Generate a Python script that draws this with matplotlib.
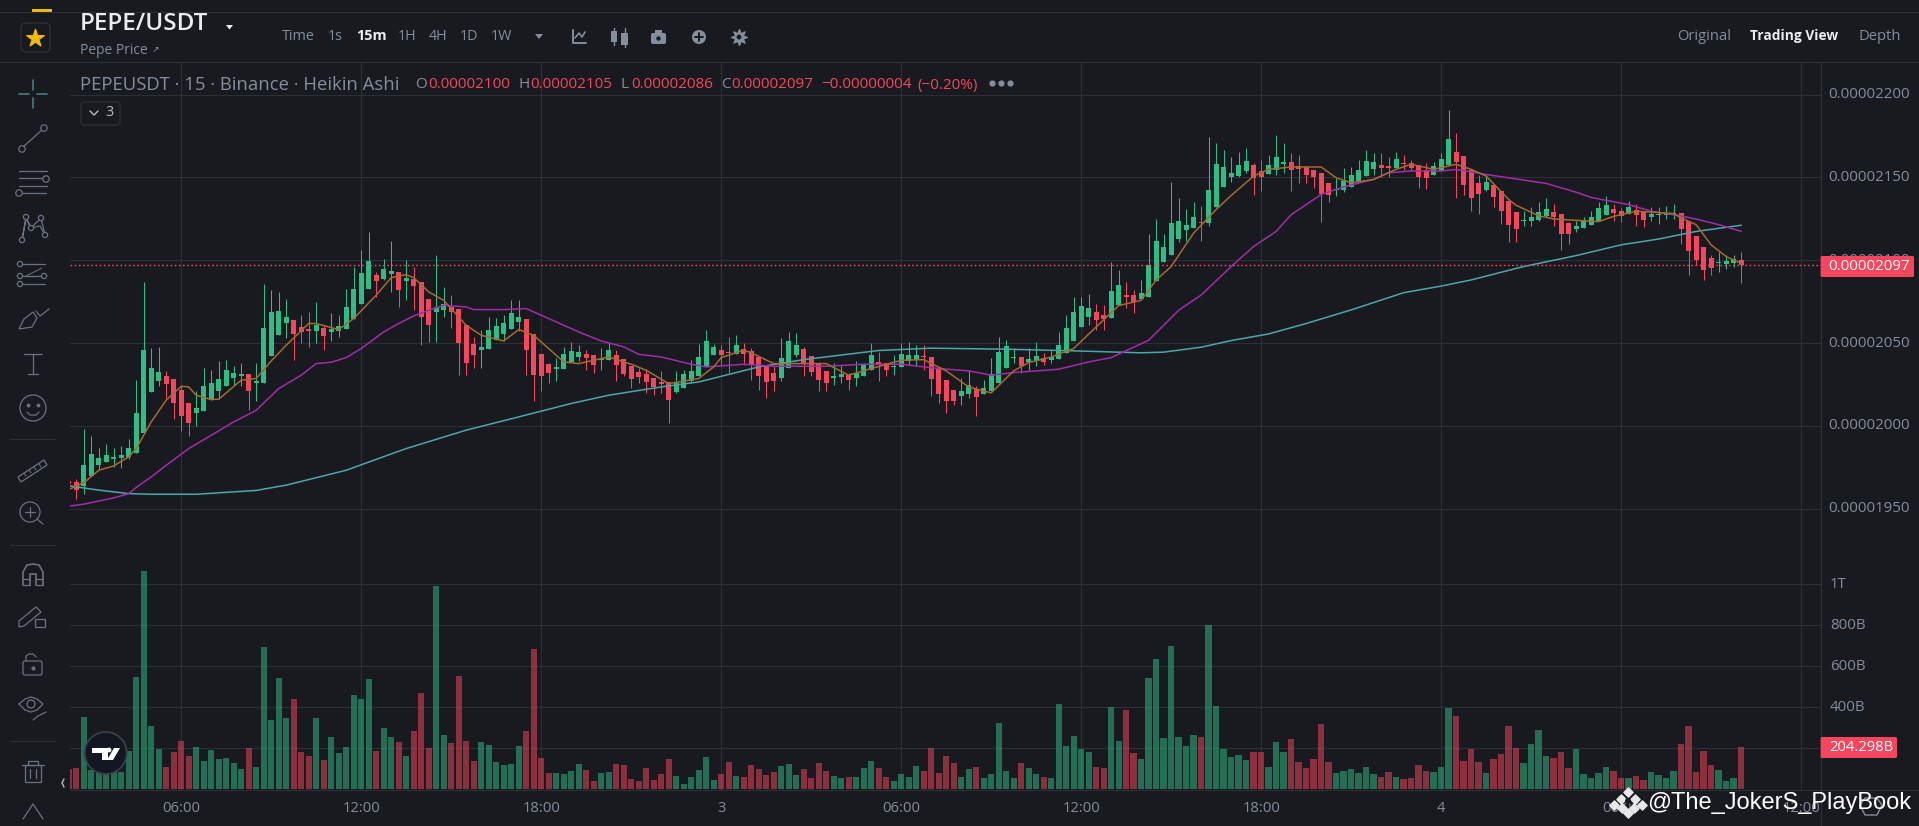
import numpy as np
import matplotlib
matplotlib.use('Agg')
import matplotlib.pyplot as plt
from matplotlib.patches import Circle, FancyBboxPatch, Polygon, Rectangle

# prices are in units of 0.00000001, bar 0 is the first 06:00 candle
opens = [1966.6, 1966.0, 1963.6, 1969.6, 1976.2, 1978.1, 1979.9, 1980.5, 1981.1, 1983.5, 1995.6, 2020.3, 2027.0, 2030.0, 2028.2,
         2021.5, 2013.7, 2007.6, 2008.8, 2015.9, 2020.9, 2023.9, 2028.8, 2030.0, 2031.2,
         2025.7, 2025.7, 2042.0, 2054.7, 2062.0, 2063.8, 2059.5, 2058.3, 2057.1, 2058.9,
         2056.5, 2057.1, 2058.3, 2064.4, 2073.4, 2082.5, 2090.9, 2088.5, 2091.5, 2092.7,
         2087.3, 2088.5, 2086.7, 2076.4, 2068.6, 2069.8, 2071.6, 2070.4, 2060.7, 2049.3,
         2045.7, 2046.3, 2051.7, 2055.3, 2058.3, 2062.6, 2064.4, 2055.3, 2043.2, 2037.2,
         2034.2, 2034.2, 2038.4, 2041.4, 2043.2, 2042.6, 2039.6, 2039.6, 2042.6, 2040.2,
         2036.0, 2032.4, 2031.2, 2028.8, 2026.3, 2026.3, 2020.3, 2022.7, 2026.9, 2030.0,
         2035.4, 2042.6, 2045.7, 2044.5, 2043.2, 2046.3, 2045.1, 2041.4, 2036.0, 2031.8,
         2028.8, 2034.8, 2042.6, 2046.3, 2042.0, 2037.2, 2033.0, 2028.8, 2029.4, 2030.6,
         2028.8, 2030.0, 2033.6, 2038.4, 2037.8, 2035.4, 2035.4, 2039.0, 2039.6, 2042.0,
         2041.4, 2034.8, 2027.6, 2021.5, 2017.9, 2019.1, 2022.1, 2019.1, 2020.9, 2025.7,
         2034.8, 2040.8, 2041.4, 2038.4, 2039.0, 2040.8, 2039.6, 2040.2, 2043.8, 2051.1,
         2059.5, 2065.6, 2068.6, 2066.8, 2065.0, 2072.8, 2078.9, 2078.9, 2076.4, 2078.0,
         2087.5, 2099.0, 2103.3, 2113.0, 2118.4, 2119.6, 2123.3, 2122.7, 2132.4, 2144.5,
         2150.0, 2150.6, 2153.7, 2157.3, 2153.7, 2151.8, 2154.3, 2157.9, 2159.1, 2156.7,
         2156.1, 2154.3, 2152.4, 2146.4, 2142.7, 2142.7, 2144.5, 2147.6, 2150.6, 2154.9,
         2157.3, 2156.7, 2155.5, 2158.5, 2158.5, 2157.3, 2154.3, 2151.2, 2153.7, 2157.3,
         2165.2, 2162.8, 2154.3, 2146.4, 2142.7, 2145.2, 2142.1, 2136.0, 2129.4, 2123.9,
         2123.9, 2124.5, 2126.9, 2129.4, 2128.2, 2122.7, 2119.0, 2119.6, 2121.5, 2123.9,
         2127.5, 2131.2, 2130.0, 2128.2, 2130.6, 2129.4, 2126.3, 2127.5, 2127.5, 2128.2,
         2128.8, 2123.9, 2114.8, 2108.1, 2101.4, 2098.4, 2097.8, 2098.4, 2100.0]

closes = [1964.8, 1961.4, 1976.2, 1982.9, 1980.5, 1982.3, 1981.1, 1982.3, 1986.5, 2007.6, 2045.7, 2034.8, 2032.4, 2025.1, 2013.7,
          2005.8, 2001.6, 2010.7, 2023.9, 2025.7, 2028.2, 2033.6, 2031.8, 2031.2, 2020.9,
          2027.0, 2058.9, 2068.6, 2069.2, 2065.6, 2055.3, 2056.5, 2057.1, 2060.7, 2054.1,
          2058.3, 2060.1, 2071.6, 2082.5, 2092.1, 2099.4, 2087.3, 2094.6, 2093.3, 2081.9,
          2089.1, 2084.3, 2065.6, 2060.7, 2071.6, 2073.4, 2068.6, 2049.9, 2037.8, 2042.6,
          2047.5, 2057.7, 2060.1, 2062.0, 2068.0, 2065.6, 2045.7, 2030.6, 2030.0, 2031.8,
          2035.4, 2043.2, 2045.1, 2044.5, 2040.8, 2036.6, 2040.2, 2045.7, 2036.6, 2031.2,
          2028.2, 2029.4, 2026.3, 2023.3, 2025.1, 2015.5, 2025.7, 2031.2, 2033.0, 2041.4,
          2051.1, 2047.5, 2042.6, 2043.8, 2048.7, 2043.2, 2036.6, 2030.0, 2026.3, 2027.0,
          2040.8, 2051.1, 2048.7, 2037.2, 2032.4, 2027.6, 2025.7, 2030.0, 2031.2, 2027.6,
          2031.8, 2037.2, 2042.6, 2036.6, 2033.6, 2036.0, 2043.2, 2042.6, 2042.6, 2041.4,
          2028.2, 2019.1, 2014.9, 2014.9, 2020.9, 2024.5, 2017.3, 2022.7, 2031.2, 2044.5,
          2048.1, 2041.4, 2036.0, 2040.2, 2042.0, 2038.4, 2041.4, 2048.7, 2058.9, 2068.6,
          2072.2, 2071.0, 2063.8, 2064.4, 2081.3, 2084.9, 2077.7, 2074.6, 2080.1, 2097.2,
          2111.8, 2108.1, 2122.7, 2123.9, 2121.5, 2126.3, 2122.7, 2142.7, 2157.9, 2156.1,
          2152.4, 2157.3, 2159.7, 2149.4, 2150.0, 2157.3, 2162.2, 2159.1, 2154.3, 2154.9,
          2151.2, 2150.0, 2139.7, 2139.1, 2143.3, 2147.6, 2151.2, 2154.3, 2159.7, 2159.1,
          2155.5, 2155.5, 2160.9, 2157.9, 2155.5, 2150.0, 2149.4, 2156.7, 2160.9, 2173.1,
          2159.1, 2145.2, 2137.3, 2139.7, 2147.0, 2137.9, 2130.0, 2121.5, 2119.0, 2124.5,
          2126.3, 2129.4, 2131.2, 2126.3, 2116.0, 2116.0, 2120.9, 2123.9, 2126.3, 2131.8,
          2133.6, 2128.8, 2126.9, 2132.4, 2127.5, 2124.5, 2128.2, 2128.2, 2128.8, 2128.8,
          2119.0, 2105.7, 2100.2, 2094.2, 2095.4, 2099.0, 2099.6, 2100.8, 2097.0]

highs = [1966.6, 1967.8, 1998.0, 1993.7, 1986.7, 1988.9, 1986.5, 1987.7, 1992.0, 2027.6, 2086.7, 2046.9, 2047.5, 2033.0, 2028.2,
         2023.9, 2013.7, 2020.9, 2034.8, 2033.6, 2039.0, 2039.6, 2036.0, 2037.8, 2031.2,
         2037.8, 2085.5, 2081.9, 2080.7, 2076.4, 2063.8, 2066.8, 2068.6, 2074.6, 2060.7,
         2068.0, 2066.8, 2082.5, 2095.8, 2106.0, 2116.9, 2092.7, 2100.6, 2111.5, 2092.7,
         2100.0, 2095.8, 2086.7, 2076.4, 2103.0, 2083.7, 2078.9, 2070.4, 2060.7, 2053.5,
         2057.7, 2065.6, 2065.0, 2066.8, 2075.8, 2075.8, 2064.4, 2055.3, 2043.2, 2037.8,
         2040.8, 2047.5, 2050.5, 2048.7, 2045.7, 2042.6, 2046.9, 2050.5, 2045.7, 2040.2,
         2036.0, 2034.8, 2034.2, 2028.8, 2033.0, 2026.3, 2033.0, 2033.6, 2039.6, 2049.7,
         2057.7, 2049.7, 2048.7, 2053.5, 2054.7, 2049.9, 2046.9, 2041.4, 2036.0, 2036.0,
         2052.9, 2056.5, 2055.9, 2047.5, 2042.0, 2037.2, 2033.0, 2037.8, 2036.6, 2031.8,
         2039.0, 2037.8, 2049.9, 2044.5, 2037.8, 2042.6, 2049.9, 2050.5, 2048.7, 2048.7,
         2041.4, 2034.8, 2027.6, 2021.5, 2028.8, 2033.6, 2023.9, 2027.6, 2040.8, 2053.5,
         2051.7, 2046.9, 2041.4, 2046.9, 2050.5, 2043.8, 2045.7, 2056.5, 2066.8, 2077.7,
         2077.7, 2079.5, 2073.4, 2072.8, 2098.8, 2093.9, 2086.7, 2081.9, 2087.9, 2116.0,
         2125.1, 2116.0, 2147.0, 2137.3, 2131.2, 2135.4, 2133.0, 2174.3, 2170.7, 2166.4,
         2162.2, 2165.2, 2167.6, 2158.5, 2160.3, 2163.4, 2175.5, 2170.7, 2164.6, 2163.4,
         2156.1, 2154.3, 2152.4, 2146.4, 2149.4, 2155.5, 2156.1, 2160.3, 2166.4, 2164.6,
         2164.6, 2162.2, 2165.2, 2163.4, 2160.3, 2157.3, 2158.5, 2159.1, 2164.6, 2190.7,
         2176.7, 2162.8, 2154.3, 2151.2, 2151.2, 2145.2, 2142.1, 2136.0, 2129.4, 2130.0,
         2132.4, 2135.4, 2137.3, 2134.2, 2128.2, 2123.3, 2123.9, 2126.3, 2130.0, 2135.4,
         2138.5, 2134.2, 2131.8, 2136.0, 2134.2, 2130.0, 2132.4, 2132.4, 2133.0, 2134.2,
         2128.8, 2123.9, 2114.8, 2108.1, 2103.3, 2105.1, 2103.3, 2103.3, 2105.0]

lows = [1964.8, 1956.0, 1959.0, 1969.6, 1973.8, 1978.1, 1975.2, 1974.6, 1979.9, 1983.5, 1995.6, 2020.3, 2023.9, 2016.7, 2004.0,
        1996.8, 1993.8, 1999.8, 2008.8, 2015.9, 2016.1, 2023.9, 2023.9, 2023.9, 2009.4,
        2014.9, 2025.7, 2042.0, 2054.7, 2052.9, 2039.6, 2049.9, 2047.5, 2049.9, 2045.7,
        2051.1, 2053.5, 2058.3, 2064.4, 2073.4, 2082.5, 2077.7, 2087.9, 2080.7, 2071.6,
        2075.8, 2069.8, 2048.7, 2050.5, 2050.5, 2065.6, 2058.9, 2030.6, 2030.6, 2034.8,
        2034.8, 2046.3, 2051.7, 2051.1, 2058.3, 2057.1, 2030.6, 2014.9, 2020.9, 2025.7,
        2027.0, 2034.2, 2038.4, 2039.0, 2033.6, 2031.8, 2033.6, 2039.6, 2027.0, 2030.0,
        2022.7, 2025.7, 2019.7, 2018.5, 2019.7, 2001.6, 2019.7, 2022.7, 2026.3, 2030.0,
        2035.4, 2042.6, 2036.6, 2031.8, 2043.2, 2036.6, 2027.6, 2021.5, 2016.7, 2020.9,
        2027.0, 2034.8, 2041.4, 2030.0, 2030.0, 2020.9, 2020.9, 2024.5, 2025.7, 2021.5,
        2023.9, 2030.0, 2033.6, 2027.0, 2030.0, 2030.6, 2035.4, 2036.6, 2036.0, 2033.6,
        2017.9, 2013.7, 2007.6, 2012.5, 2012.5, 2016.7, 2005.8, 2019.1, 2020.9, 2025.7,
        2034.8, 2037.8, 2031.8, 2033.6, 2036.0, 2036.6, 2037.8, 2040.2, 2043.8, 2051.1,
        2059.5, 2060.7, 2057.7, 2057.7, 2065.0, 2072.8, 2071.0, 2068.0, 2076.4, 2078.0,
        2087.5, 2099.0, 2103.3, 2111.2, 2111.8, 2119.6, 2111.8, 2120.9, 2132.4, 2144.5,
        2147.0, 2150.0, 2152.4, 2139.1, 2142.1, 2151.8, 2151.2, 2152.4, 2142.1, 2146.4,
        2146.4, 2143.9, 2123.3, 2135.4, 2138.5, 2141.5, 2144.5, 2147.0, 2150.6, 2151.2,
        2150.0, 2150.0, 2155.5, 2154.3, 2153.7, 2143.9, 2143.3, 2151.2, 2153.7, 2157.3,
        2137.3, 2139.1, 2130.0, 2128.2, 2142.1, 2132.4, 2122.1, 2111.2, 2111.2, 2120.9,
        2120.9, 2123.9, 2126.3, 2120.9, 2106.3, 2109.9, 2117.2, 2119.6, 2121.5, 2123.9,
        2127.5, 2123.9, 2123.3, 2128.2, 2120.9, 2120.3, 2123.9, 2122.1, 2125.1, 2125.1,
        2109.9, 2091.1, 2097.2, 2088.1, 2091.1, 2092.9, 2094.8, 2096.0, 2086.0]

# volume in billions
volumes = [99, 104, 353, 94, 78, 85, 85, 85, 187, 548, 1065, 309, 197, 109, 182,
           236, 163, 207, 138, 192, 148, 153, 128, 99, 202,
           109, 694, 338, 543, 348, 441, 182, 163, 348, 143,
           255, 177, 207, 460, 441, 538, 187, 299, 255, 231,
           163, 285, 470, 202, 992, 265, 226, 553, 236, 138,
           231, 216, 133, 119, 124, 211, 285, 685, 153, 80,
           80, 75, 89, 124, 94, 41, 80, 85, 124, 119,
           50, 41, 104, 46, 75, 148, 65, 26, 60, 94,
           158, 46, 75, 133, 65, 60, 119, 99, 70, 85,
           114, 124, 70, 99, 55, 128, 89, 65, 55, 60,
           60, 104, 138, 104, 60, 41, 75, 60, 114, 89,
           202, 80, 163, 128, 60, 99, 109, 55, 75, 324,
           89, 55, 128, 104, 75, 60, 55, 416, 211, 260,
           197, 182, 109, 104, 402, 236, 387, 177, 148, 543,
           636, 250, 699, 255, 211, 265, 255, 802, 407, 197,
           158, 167, 143, 182, 182, 109, 231, 182, 246, 133,
           104, 148, 319, 133, 80, 89, 99, 80, 109, 75,
           60, 85, 60, 50, 55, 119, 89, 85, 109, 397,
           358, 138, 197, 133, 80, 148, 172, 309, 202, 128,
           221, 289, 163, 153, 182, 104, 197, 75, 55, 80,
           109, 89, 55, 55, 65, 46, 85, 70, 55, 89,
           221, 309, 85, 187, 119, 94, 41, 55, 204.298]

# moving averages at the bends
ma_fast_bars = [-15, -13, -11, -9, -7, -6, -4, -2, 0, 1, 2, 4, 5, 8, 10, 12, 14, 17, 18, 21, 23, 26, 28, 30, 31, 33, 35, 38, 40, 43,
                45, 47, 51, 53, 57, 60, 62, 65, 69, 71, 72, 75, 76, 79, 82, 86, 89, 92, 96, 99, 102, 105, 108, 111, 113, 116, 119, 122, 125, 128,
                130, 132, 135, 138, 140, 143, 145, 148, 152, 154, 156, 159, 162, 164, 167, 170, 172, 174, 177, 178, 181, 183, 189, 191, 194, 199, 200, 202, 204, 206, 208]
ma_fast = [1961.6, 1965.6, 1973.2, 1975.8, 1981.3, 1986.3, 2002.4, 2015.5, 2023.9, 2023.5, 2018.5, 2015.9, 2016.1, 2027.6, 2028.6, 2039.2, 2048.7, 2061.8, 2061.8, 2058.1, 2064.8, 2078.9, 2089.5, 2091.3, 2089.5, 2080.9, 2075.8, 2060.7, 2054.7, 2051.3,
           2058.1, 2054.7, 2038.6, 2037.6, 2041.6, 2037.2, 2033.6, 2025.5, 2028.6, 2035.6, 2041.2, 2045.7, 2044.1, 2037.6, 2037.6, 2037.6, 2030.6, 2034.6, 2039.6, 2040.0, 2033.2, 2023.5, 2019.9, 2033.2, 2038.2, 2041.6, 2046.7, 2059.7, 2072.6, 2075.8,
           2088.1, 2096.2, 2116.4, 2130.6, 2139.1, 2150.8, 2154.9, 2156.3, 2156.3, 2149.8, 2146.8, 2148.8, 2154.9, 2157.9, 2154.9, 2157.9, 2154.9, 2150.8, 2136.7, 2133.2, 2126.9, 2124.9, 2123.3, 2126.5, 2129.6, 2128.2, 2125.5, 2121.5, 2109.3, 2102.2, 2098.2]

ma_mid_bars = [-15, -13, -9, -7, -6, -4, -2, 1, 4, 7, 10, 13, 16, 18, 20, 22, 24, 27, 29, 31, 33, 35, 38, 39, 43, 46, 50, 53, 56, 59, 61, 64, 68, 70,
               75, 79, 86, 91, 96, 101, 105, 108, 111, 117, 121, 124, 129, 133, 136, 140, 143, 146, 148, 152, 155, 159, 161, 164, 168, 170, 172, 174, 179, 182, 186, 188, 190, 193, 196, 199, 202, 205, 208]
ma_mid = [1951.5, 1952.7, 1956.5, 1959.1, 1962.8, 1969.2, 1976.2, 1986.3, 1994.3, 2002.4, 2009.4, 2022.5, 2030.6, 2037.6, 2038.4, 2041.2, 2046.7, 2056.7, 2061.8, 2066.4, 2069.8, 2072.8, 2071.8, 2070.2, 2070.2, 2070.8, 2062.8, 2056.7, 2051.3, 2047.7, 2043.2, 2041.6, 2037.2, 2035.6,
          2037.2, 2036.0, 2036.0, 2037.2, 2037.2, 2034.6, 2033.2, 2030.6, 2032.2, 2034.2, 2038.6, 2041.2, 2051.7, 2069.8, 2079.0, 2096.2, 2108.3, 2117.4, 2127.5, 2139.7, 2144.3, 2148.8, 2152.8, 2153.9, 2153.9, 2154.8, 2153.4, 2151.8, 2148.4, 2146.4, 2141.1, 2137.9, 2136.2, 2133.6, 2129.6, 2127.5, 2124.9, 2121.5, 2117.4]

ma_slow_bars = [-15, -11, -7, -4, 2, 10, 14, 22, 30, 38, 45, 52, 57, 64, 69, 77, 83, 93, 100, 110, 119, 128, 131, 136, 140, 145, 150, 156, 163, 168, 172, 179, 186, 192, 197, 202, 208]
ma_slow = [1963.8, 1961.2, 1959.1, 1958.7, 1958.7, 1961.0, 1964.2, 1973.2, 1986.3, 1997.4, 2005.4, 2013.5, 2018.5, 2023.5, 2026.5, 2035.6, 2040.0, 2045.5, 2046.9, 2046.3, 2045.3, 2044.1, 2044.5, 2047.5, 2051.5, 2055.5, 2061.8, 2070.0, 2080.4, 2084.4, 2088.1, 2096.2, 2102.8, 2109.3, 2112.8, 2117.4, 2121.1]

last_price = 2097
last_volume = 204.298

time_bars = [0, 24, 48, 72, 96, 120, 144, 168, 192, 216]
time_labels = ['06:00', '12:00', '18:00', '3', '06:00', '12:00', '18:00', '4', '06:00', '12:00']
price_ticks = [1950, 2000, 2050, 2100, 2150, 2200]
volume_ticks = [200, 400, 600, 800, 1000]
volume_tick_labels = ['200B', '400B', '600B', '800B', '1T']

BG = '#181A20'
GRID = '#2B2F36'
GREY = '#848E9C'
GREEN = '#2EBD85'
RED = '#F6465D'
FONT = 'Open Sans'
W, H = 1919, 826

plt.rcParams['font.family'] = FONT
fig = plt.figure(figsize=(W / 100, H / 100), dpi=100, facecolor=BG)


def pane(left, top, right, bottom):
    # axes placed from pixel edges
    a = fig.add_axes([left / W, 1 - bottom / H, (right - left) / W, (bottom - top) / H], facecolor=BG)
    for s in a.spines.values():
        s.set_visible(False)
    a.tick_params(length=0, labelleft=False, labelbottom=False)
    a.set_xlim(-14.83, 218.6)
    a.set_xticks(time_bars)
    a.grid(True, color=GRID, lw=0.8)
    a.set_axisbelow(True)
    return a


bars = np.arange(len(opens)) - 15
opens_a, closes_a = np.array(opens), np.array(closes)
up = closes_a >= opens_a
colors = [GREEN if u else RED for u in up]

# candles
ax = pane(70, 62, 1820.6, 560)
ax.set_ylim(1919.0, 2219.7)
ax.set_yticks(price_ticks)
ax.vlines(bars, lows, highs, colors=colors, lw=0.75, zorder=2)
ax.bar(bars, np.abs(closes_a - opens_a), bottom=np.minimum(opens_a, closes_a), width=0.68,
       color=colors, zorder=3, linewidth=0)
ax.plot(ma_slow_bars, ma_slow, color='#4CA6AC', lw=1.1, zorder=4)
ax.plot(ma_mid_bars, ma_mid, color='#A22DA8', lw=1.1, zorder=4)
ax.plot(ma_fast_bars, ma_fast, color='#A56B30', lw=1.1, zorder=5)
ax.axhline(last_price, color=RED, lw=1.0, ls=(0, (1.2, 1.8)), zorder=5)

# volume
vax = pane(70, 560, 1820.6, 790)
vax.set_ylim(-3.4, 1118.5)
vax.set_yticks(volume_ticks)
vax.bar(bars, volumes, width=0.84, color=colors, alpha=0.52, linewidth=0, zorder=3)

# everything around the chart, in pixel coordinates
ui = fig.add_axes([0, 0, 1, 1], zorder=10)
ui.set_xlim(0, W)
ui.set_ylim(H, 0)
ui.axis('off')
ui.patch.set_alpha(0)


def label(x, y, s, color=GREY, size=10.8, ha='left', weight='normal', family=FONT, z=6):
    ui.text(x, y, s, color=color, fontsize=size, ha=ha, va='center', fontweight=weight, family=family, zorder=z)


def line(xs, ys, color='#6B7280', lw=0.9, z=3):
    ui.plot(xs, ys, color=color, lw=lw, solid_capstyle='round', zorder=z)


def knob(x, y, r=3.2, color='#6B7280'):
    ui.add_patch(Circle((x, y), r, fc=BG, ec=color, lw=0.9, zorder=4))


# frame lines
line([0, W], [12, 12], GRID, 0.8)
line([0, W], [62, 62], GRID, 0.8)
line([1820.6, 1820.6], [62, 826], GRID, 0.8)
line([70, W], [790, 790], GRID, 0.8)
ui.add_patch(Rectangle((32, 9), 20, 3, fc='#F0B90B', ec='none'))

# header
ui.add_patch(FancyBboxPatch((21, 23), 29, 29, boxstyle='round,pad=0,rounding_size=5', fc=BG, ec=GRID, lw=1))
ui.scatter([35], [38], marker='*', s=170, color='#F0B90B', zorder=5)
label(80, 24, 'PEPE/USDT', '#EAECEF', 17.5, weight='semibold')
ui.add_patch(Polygon([[226, 25], [233, 25], [229.5, 29.5]], fc='#EAECEF', ec='none'))
label(80, 51, 'Pepe Price', GREY, 9.9)
label(152, 49, '↗', GREY, 6.5, family='DejaVu Sans')
for x, s, c, w in [(282, 'Time', GREY, 'medium'), (328, '1s', GREY, 'medium'), (356, '15m', '#EAECEF', 'bold'), (398, '1H', GREY, 'medium'),
                   (429, '4H', GREY, 'medium'), (460, '1D', GREY, 'medium'), (491, '1W', GREY, 'medium')]:
    label(x, 36, s, c, 10.4, weight=w)
ui.add_patch(Polygon([[535, 34], [543, 34], [539, 39]], fc=GREY, ec='none'))
# chart tool icons
line([573, 573, 586], [30, 43, 43], GREY, 1.4)
line([575, 579, 582, 585], [38, 33, 37, 32], GREY, 1.2)
ui.add_patch(Rectangle((611, 31), 6, 11, fc=GREY, ec='none'))
ui.add_patch(Rectangle((621, 33), 7, 12, fc=GREY, ec='none'))
line([614, 614], [28, 45], GREY, 1)
line([624.5, 624.5], [28, 47], GREY, 1)
ui.add_patch(FancyBboxPatch((651, 33), 15, 11, boxstyle='round,pad=0,rounding_size=2', fc=GREY, ec='none'))
ui.add_patch(Rectangle((655, 30), 7, 3, fc=GREY, ec='none'))
ui.add_patch(Circle((658.5, 38.5), 2.2, fc=BG, ec='none', zorder=4))
ui.add_patch(Circle((699, 37), 7, fc=GREY, ec='none'))
line([695, 703], [37, 37], BG, 1.4, 5)
line([699, 699], [33, 41], BG, 1.4, 5)
ui.scatter([739], [37], marker=(8, 1, 0), s=130, color=GREY, zorder=4)
ui.add_patch(Circle((739, 37), 2.4, fc=BG, ec='none', zorder=5))
label(1677, 36, 'Original', GREY, 10.6, weight='medium')
label(1750, 36, 'Trading View', '#EAECEF', 9.9, weight='bold')
label(1859, 36, 'Depth', GREY, 10.6, weight='medium')

# legend row
label(80, 85, 'PEPEUSDT · 15 · Binance · Heikin Ashi', GREY, 13.3)
for x, s in [(415, 'O'), (519, 'H'), (620, 'L'), (721, 'C')]:
    label(x, 85, s, GREY, 11)
for x, s in [(428, '0.00002100'), (530, '0.00002105'), (631, '0.00002086'), (731, '0.00002097'),
             (821, '−0.00000004'), (917, '(−0.20%)')]:
    label(x, 85, s, RED, 11)
ui.scatter([992, 1001, 1010], [83, 83, 83], s=12, color=GREY, zorder=5)
ui.add_patch(FancyBboxPatch((81, 102), 39, 23, boxstyle='round,pad=0,rounding_size=3', fc=BG, ec=GRID, lw=1, zorder=5))
line([90, 94, 98], [111, 115, 111], '#B7BDC6', 1.0, 6)
label(105, 113, '3', '#B7BDC6', 10.4)

# price and volume scales
for p in price_ticks:
    label(1828, ax.transData.transform((0, p))[1] * -1 + H, f'0.0000{p}', GREY, 10.8, z=3)
for v, s in zip(volume_ticks, volume_tick_labels):
    label(1830, vax.transData.transform((0, v))[1] * -1 + H, s, GREY, 10.8, z=3)
for b, s in zip(time_bars, time_labels):
    label(ax.transData.transform((b, 0))[0], 808, s, GREY, 10.6, ha='center', weight='medium' if len(s) == 1 else 'normal', z=3)
ui.add_patch(FancyBboxPatch((1820.6, 256), 93.4, 21, boxstyle='round,pad=0,rounding_size=1.5', fc=RED, ec='none', zorder=5))
label(1828, 266.5, f'0.0000{last_price}', 'white', 10.8, z=6, weight='medium')
ui.add_patch(FancyBboxPatch((1820.6, 737), 76.4, 21, boxstyle='round,pad=0,rounding_size=1.5', fc=RED, ec='none', zorder=5))
label(1829, 747.5, f'{last_volume}B', 'white', 10.6, z=6, weight='medium')

# left toolbar
line([33, 33], [80, 90], '#3D7F86', 1.2)
line([33, 33], [98, 108], '#3D7F86', 1.2)
line([19, 29], [94, 94], '#3D7F86', 1.2)
line([37, 47], [94, 94], '#3D7F86', 1.2)
line([22, 43], [148, 129])
knob(22, 149)
knob(44, 128)
for y, x1 in [(171, 47), (178, 46), (186, 47), (193, 46)]:
    line([19, x1], [y, y])
knob(46, 179)
knob(19, 193)
line([22, 26, 31, 41, 45, 40, 31, 26, 22], [240, 218, 228, 218, 235, 226, 228, 218, 240])
for x, y in [(22, 240), (26, 217), (31, 228), (41, 218), (45, 235)]:
    knob(x, y, 2.6)
for y0, x1 in [(264, 45), (276, 46), (284, 45)]:
    line([20, x1], [y0, y0])
    knob(20, y0, 2.6)
line([26, 42], [276, 268], '#6B7280', 0.7)
knob(44, 276, 2.6)
ui.add_patch(Polygon([[19, 329], [24, 319], [33, 312], [37, 318], [32, 327]], fc=BG, ec='#6B7280', lw=0.9))
line([36, 40, 49], [311, 316, 309])
line([24, 42], [354, 354])
line([33, 33], [354, 374])
line([28, 38], [374, 374])
ui.add_patch(Circle((33, 408), 13, fc=BG, ec='#6B7280', lw=0.9))
ui.scatter([28, 38], [405, 405], s=3, color='#6B7280')
line([27, 30, 36, 39], [412, 415, 415, 412])
line([10, 55], [439, 439], GRID, 0.8)
ui.add_patch(Polygon([[18, 477], [44, 460], [47, 465], [21, 482]], fc=BG, ec='#6B7280', lw=0.9, zorder=3))
for tx, ty in [(24, 473), (29, 470), (34, 467), (39, 464)]:
    line([tx, tx + 2], [ty, ty + 3], '#6B7280', 0.7, 4)
ui.add_patch(Circle((30, 512), 10, fc=BG, ec='#6B7280', lw=0.9))
line([25, 35], [512, 512])
line([30, 30], [507, 517])
line([37, 43], [519, 524])
line([10, 55], [545, 545], GRID, 0.8)
line([23, 23, 27, 33, 39, 43, 43], [585, 572, 565, 564, 565, 572, 585], '#6B7280', 1.2)
line([30, 30, 36, 36], [585, 574, 574, 585], '#6B7280', 1.2)
line([23, 30], [579, 579])
line([36, 43], [579, 579])
line([23, 30], [585, 585])
line([36, 43], [585, 585])
ui.add_patch(Polygon([[19, 621], [36, 607], [41, 612], [24, 626], [19, 627]], fc=BG, ec='#6B7280', lw=0.9))
ui.add_patch(Rectangle((35, 619), 10, 8, fc=BG, ec='#6B7280', lw=0.9))
ui.add_patch(FancyBboxPatch((23, 661), 19, 14, boxstyle='round,pad=0,rounding_size=2', fc=BG, ec='#6B7280', lw=0.9))
line([26, 26, 29, 33, 36], [661, 656, 654, 654, 657])
ui.scatter([32.5], [668], s=4, color='#6B7280')
xs_eye = [19, 25, 31, 37, 43, 37, 31, 25, 19]
ys_eye = [704, 699, 697, 699, 704, 710, 712, 710, 704]
line(xs_eye, ys_eye)
ui.add_patch(Circle((31, 704), 4, fc=BG, ec='#6B7280', lw=0.9))
line([33, 38, 46], [720, 716, 712])
line([10, 55], [741, 741], GRID, 0.8)
line([22, 44], [765, 765])
ui.add_patch(Rectangle((25, 765), 16, 17, fc=BG, ec='#6B7280', lw=0.9))
ui.add_patch(Rectangle((28, 761), 10, 4, fc=BG, ec='#6B7280', lw=0.9))
line([30, 30], [769, 778])
line([36, 36], [769, 778])
line([23, 33, 43], [819, 804, 819])
line([64, 62, 64], [779, 783, 787], '#B7BDC6', 1)

# tradingview badge over the volume bars
ui.add_patch(Circle((105.7, 753), 21, fc='#131722', ec='#3B3F47', lw=1.3, zorder=7))
ui.add_patch(Polygon([[92, 748], [108, 748], [108, 760], [102, 760], [102, 753], [92, 753]], fc='white', ec='none', zorder=8))
ui.add_patch(Circle((109, 750), 2.4, fc='white', ec='none', zorder=8))
ui.add_patch(Polygon([[114, 748], [120, 748], [113, 760], [107, 760]], fc='white', ec='none', zorder=8))

# hexagon icon in the corner, then the watermark
line([1860, 1865, 1877, 1882, 1877, 1865, 1860], [805, 798, 798, 805, 815, 815, 805], GREY, 1.0, 4)
dia = [(0, -9), (-7, -2), (7, -2), (-14, 4), (14, 4), (-6, 7), (6, 7), (0, 12)]
ui.scatter([1628 + dx for dx, dy in dia], [801 + dy for dx, dy in dia], marker='D', s=22, color='#E8E8E8', zorder=8)
ui.add_patch(Circle((1628, 801), 3, fc=BG, ec='none', zorder=9))
label(1647, 803, '@The_JokerS_PlayBook', 'white', 17, family='Liberation Sans', z=9)

fig.savefig('out.png', dpi=100, facecolor=BG)
